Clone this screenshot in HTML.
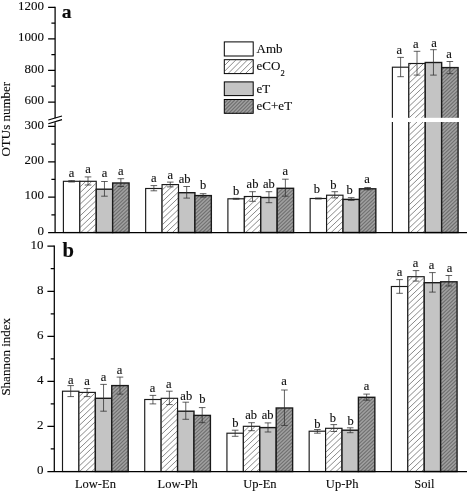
<!DOCTYPE html>
<html><head><meta charset="utf-8"><title>Figure</title>
<style>
html,body{margin:0;padding:0;background:#fff}
svg{display:block}
text{font-family:"Liberation Serif",serif;fill:#0a0a0a;stroke:#0a0a0a;stroke-width:0.12px}
.t{font-size:13px}
.l{font-size:13px}
.s{font-size:12.5px;text-anchor:middle}
.p{font-size:19.6px;font-weight:bold}
</style></head><body>
<svg width="468" height="492" viewBox="0 0 468 492">
<rect width="468" height="492" fill="#fff"/>

<rect x="63.40" y="181.30" width="16.42" height="51.20" fill="#fff"/>
<rect x="63.40" y="181.30" width="16.42" height="51.20" fill="none" stroke="#1a1a1a" stroke-width="1.15"/>
<rect x="79.82" y="181.30" width="16.42" height="51.20" fill="#fff"/>
<path d="M80.32,186.60L85.37,181.80M80.32,192.40L91.47,181.80M80.32,198.20L95.74,183.55M80.32,204.00L95.74,189.35M80.32,209.80L95.74,195.15M80.32,215.60L95.74,200.95M80.32,221.40L95.74,206.75M80.32,227.20L95.74,212.55M80.84,232.50L95.74,218.35M86.95,232.50L95.74,224.15M93.05,232.50L95.74,229.95" stroke="#7c7c7c" stroke-width="0.9" fill="none"/>
<rect x="79.82" y="181.30" width="16.42" height="51.20" fill="none" stroke="#1a1a1a" stroke-width="1.15"/>
<rect x="96.24" y="189.20" width="16.42" height="43.30" fill="#c4c4c4"/>
<rect x="96.24" y="189.20" width="16.42" height="43.30" fill="none" stroke="#1a1a1a" stroke-width="1.4"/>
<rect x="112.66" y="183.00" width="16.42" height="49.50" fill="#a0a0a0"/>
<path d="M113.16,184.10L113.79,183.50M113.16,187.70L117.58,183.50M113.16,191.30L121.37,183.50M113.16,194.90L125.16,183.50M113.16,198.50L128.58,183.85M113.16,202.10L128.58,187.45M113.16,205.70L128.58,191.05M113.16,209.30L128.58,194.65M113.16,212.90L128.58,198.25M113.16,216.50L128.58,201.85M113.16,220.10L128.58,205.45M113.16,223.70L128.58,209.05M113.16,227.30L128.58,212.65M113.16,230.90L128.58,216.25M115.26,232.50L128.58,219.85M119.05,232.50L128.58,223.45M122.84,232.50L128.58,227.05M126.63,232.50L128.58,230.65" stroke="#707070" stroke-width="1.1" fill="none"/>
<rect x="112.66" y="183.00" width="16.42" height="49.50" fill="none" stroke="#1a1a1a" stroke-width="1.4"/>
<rect x="145.65" y="188.50" width="16.42" height="44.00" fill="#fff"/>
<rect x="145.65" y="188.50" width="16.42" height="44.00" fill="none" stroke="#1a1a1a" stroke-width="1.15"/>
<rect x="162.07" y="184.60" width="16.42" height="47.90" fill="#fff"/>
<path d="M162.57,189.66L167.37,185.10M162.57,195.46L173.47,185.10M162.57,201.26L177.99,186.61M162.57,207.06L177.99,192.41M162.57,212.86L177.99,198.21M162.57,218.66L177.99,204.01M162.57,224.46L177.99,209.81M162.57,230.26L177.99,215.61M166.32,232.50L177.99,221.41M172.42,232.50L177.99,227.21" stroke="#7c7c7c" stroke-width="0.9" fill="none"/>
<rect x="162.07" y="184.60" width="16.42" height="47.90" fill="none" stroke="#1a1a1a" stroke-width="1.15"/>
<rect x="178.49" y="192.70" width="16.42" height="39.80" fill="#c4c4c4"/>
<rect x="178.49" y="192.70" width="16.42" height="39.80" fill="none" stroke="#1a1a1a" stroke-width="1.4"/>
<rect x="194.91" y="195.60" width="16.42" height="36.90" fill="#a0a0a0"/>
<path d="M195.41,199.56L199.05,196.10M195.41,203.16L202.84,196.10M195.41,206.76L206.63,196.10M195.41,210.36L210.42,196.10M195.41,213.96L210.83,199.31M195.41,217.56L210.83,202.91M195.41,221.16L210.83,206.51M195.41,224.76L210.83,210.11M195.41,228.36L210.83,213.71M195.41,231.96L210.83,217.31M198.63,232.50L210.83,220.91M202.42,232.50L210.83,224.51M206.21,232.50L210.83,228.11M210.00,232.50L210.83,231.71" stroke="#707070" stroke-width="1.1" fill="none"/>
<rect x="194.91" y="195.60" width="16.42" height="36.90" fill="none" stroke="#1a1a1a" stroke-width="1.4"/>
<rect x="227.90" y="198.80" width="16.42" height="33.70" fill="#fff"/>
<rect x="227.90" y="198.80" width="16.42" height="33.70" fill="none" stroke="#1a1a1a" stroke-width="1.15"/>
<rect x="244.32" y="196.50" width="16.42" height="36.00" fill="#fff"/>
<path d="M244.82,198.52L246.42,197.00M244.82,204.32L252.53,197.00M244.82,210.12L258.63,197.00M244.82,215.92L260.24,201.27M244.82,221.72L260.24,207.07M244.82,227.52L260.24,212.87M245.68,232.50L260.24,218.67M251.79,232.50L260.24,224.47M257.89,232.50L260.24,230.27" stroke="#7c7c7c" stroke-width="0.9" fill="none"/>
<rect x="244.32" y="196.50" width="16.42" height="36.00" fill="none" stroke="#1a1a1a" stroke-width="1.15"/>
<rect x="260.74" y="197.50" width="16.42" height="35.00" fill="#c4c4c4"/>
<rect x="260.74" y="197.50" width="16.42" height="35.00" fill="none" stroke="#1a1a1a" stroke-width="1.4"/>
<rect x="277.16" y="188.30" width="16.42" height="44.20" fill="#a0a0a0"/>
<path d="M277.66,189.82L278.74,188.80M277.66,193.42L282.53,188.80M277.66,197.02L286.32,188.80M277.66,200.62L290.11,188.80M277.66,204.22L293.08,189.57M277.66,207.82L293.08,193.17M277.66,211.42L293.08,196.77M277.66,215.02L293.08,200.37M277.66,218.62L293.08,203.97M277.66,222.22L293.08,207.57M277.66,225.82L293.08,211.17M277.66,229.42L293.08,214.77M278.21,232.50L293.08,218.37M282.00,232.50L293.08,221.97M285.79,232.50L293.08,225.57M289.58,232.50L293.08,229.17" stroke="#707070" stroke-width="1.1" fill="none"/>
<rect x="277.16" y="188.30" width="16.42" height="44.20" fill="none" stroke="#1a1a1a" stroke-width="1.4"/>
<rect x="310.15" y="198.50" width="16.42" height="34.00" fill="#fff"/>
<rect x="310.15" y="198.50" width="16.42" height="34.00" fill="none" stroke="#1a1a1a" stroke-width="1.15"/>
<rect x="326.57" y="195.20" width="16.42" height="37.30" fill="#fff"/>
<path d="M327.07,201.58L333.26,195.70M327.07,207.38L339.37,195.70M327.07,213.18L342.49,198.53M327.07,218.98L342.49,204.33M327.07,224.78L342.49,210.13M327.07,230.58L342.49,215.93M331.16,232.50L342.49,221.73M337.26,232.50L342.49,227.53" stroke="#7c7c7c" stroke-width="0.9" fill="none"/>
<rect x="326.57" y="195.20" width="16.42" height="37.30" fill="none" stroke="#1a1a1a" stroke-width="1.15"/>
<rect x="342.99" y="199.40" width="16.42" height="33.10" fill="#c4c4c4"/>
<rect x="342.99" y="199.40" width="16.42" height="33.10" fill="none" stroke="#1a1a1a" stroke-width="1.4"/>
<rect x="359.41" y="188.80" width="16.42" height="43.70" fill="#a0a0a0"/>
<path d="M359.91,190.89L361.58,189.30M359.91,194.49L365.37,189.30M359.91,198.09L369.16,189.30M359.91,201.69L372.95,189.30M359.91,205.29L375.33,190.64M359.91,208.89L375.33,194.24M359.91,212.49L375.33,197.84M359.91,216.09L375.33,201.44M359.91,219.69L375.33,205.04M359.91,223.29L375.33,208.64M359.91,226.89L375.33,212.24M359.91,230.49L375.33,215.84M361.58,232.50L375.33,219.44M365.37,232.50L375.33,223.04M369.16,232.50L375.33,226.64M372.95,232.50L375.33,230.24" stroke="#707070" stroke-width="1.1" fill="none"/>
<rect x="359.41" y="188.80" width="16.42" height="43.70" fill="none" stroke="#1a1a1a" stroke-width="1.4"/>
<rect x="392.40" y="67.20" width="16.42" height="165.30" fill="#fff"/>
<rect x="392.40" y="67.20" width="16.42" height="165.30" fill="none" stroke="#1a1a1a" stroke-width="1.15"/>
<rect x="408.82" y="63.50" width="16.42" height="169.00" fill="#fff"/>
<path d="M409.32,65.45L410.84,64.00M409.32,71.25L416.95,64.00M409.32,77.05L423.05,64.00M409.32,82.85L424.74,68.20M409.32,88.65L424.74,74.00M409.32,94.45L424.74,79.80M409.32,100.25L424.74,85.60M409.32,106.05L424.74,91.40M409.32,111.85L424.74,97.20M409.32,117.65L424.74,103.00M409.32,123.45L424.74,108.80M409.32,129.25L424.74,114.60M409.32,135.05L424.74,120.40M409.32,140.85L424.74,126.20M409.32,146.65L424.74,132.00M409.32,152.45L424.74,137.80M409.32,158.25L424.74,143.60M409.32,164.05L424.74,149.40M409.32,169.85L424.74,155.20M409.32,175.65L424.74,161.00M409.32,181.45L424.74,166.80M409.32,187.25L424.74,172.60M409.32,193.05L424.74,178.40M409.32,198.85L424.74,184.20M409.32,204.65L424.74,190.00M409.32,210.45L424.74,195.80M409.32,216.25L424.74,201.60M409.32,222.05L424.74,207.40M409.32,227.85L424.74,213.20M410.53,232.50L424.74,219.00M416.63,232.50L424.74,224.80M422.74,232.50L424.74,230.60" stroke="#7c7c7c" stroke-width="0.9" fill="none"/>
<rect x="408.82" y="63.50" width="16.42" height="169.00" fill="none" stroke="#1a1a1a" stroke-width="1.15"/>
<rect x="425.24" y="62.50" width="16.42" height="170.00" fill="#c4c4c4"/>
<rect x="425.24" y="62.50" width="16.42" height="170.00" fill="none" stroke="#1a1a1a" stroke-width="1.4"/>
<rect x="441.66" y="67.60" width="16.42" height="164.90" fill="#a0a0a0"/>
<path d="M442.16,69.55L443.68,68.10M442.16,73.15L447.47,68.10M442.16,76.75L451.26,68.10M442.16,80.35L455.05,68.10M442.16,83.95L457.58,69.30M442.16,87.55L457.58,72.90M442.16,91.15L457.58,76.50M442.16,94.75L457.58,80.10M442.16,98.35L457.58,83.70M442.16,101.95L457.58,87.30M442.16,105.55L457.58,90.90M442.16,109.15L457.58,94.50M442.16,112.75L457.58,98.10M442.16,116.35L457.58,101.70M442.16,119.95L457.58,105.30M442.16,123.55L457.58,108.90M442.16,127.15L457.58,112.50M442.16,130.75L457.58,116.10M442.16,134.35L457.58,119.70M442.16,137.95L457.58,123.30M442.16,141.55L457.58,126.90M442.16,145.15L457.58,130.50M442.16,148.75L457.58,134.10M442.16,152.35L457.58,137.70M442.16,155.95L457.58,141.30M442.16,159.55L457.58,144.90M442.16,163.15L457.58,148.50M442.16,166.75L457.58,152.10M442.16,170.35L457.58,155.70M442.16,173.95L457.58,159.30M442.16,177.55L457.58,162.90M442.16,181.15L457.58,166.50M442.16,184.75L457.58,170.10M442.16,188.35L457.58,173.70M442.16,191.95L457.58,177.30M442.16,195.55L457.58,180.90M442.16,199.15L457.58,184.50M442.16,202.75L457.58,188.10M442.16,206.35L457.58,191.70M442.16,209.95L457.58,195.30M442.16,213.55L457.58,198.90M442.16,217.15L457.58,202.50M442.16,220.75L457.58,206.10M442.16,224.35L457.58,209.70M442.16,227.95L457.58,213.30M442.16,231.55L457.58,216.90M444.95,232.50L457.58,220.50M448.74,232.50L457.58,224.10M452.53,232.50L457.58,227.70M456.32,232.50L457.58,231.30" stroke="#707070" stroke-width="1.1" fill="none"/>
<rect x="441.66" y="67.60" width="16.42" height="164.90" fill="none" stroke="#1a1a1a" stroke-width="1.4"/>
<path d="M71.61,180.60V182.00M68.31,180.60h6.6M68.31,182.00h6.6" stroke="#2c2c2c" stroke-width="0.75" fill="none"/>
<text class="s" x="71.61" y="177.10">a</text>
<path d="M88.03,176.90V185.00M84.73,176.90h6.6M84.73,185.00h6.6" stroke="#2c2c2c" stroke-width="0.75" fill="none"/>
<text class="s" x="88.03" y="173.40">a</text>
<path d="M104.45,181.50V196.20M101.15,181.50h6.6M101.15,196.20h6.6" stroke="#2c2c2c" stroke-width="0.75" fill="none"/>
<text class="s" x="104.45" y="177.20">a</text>
<path d="M120.87,178.70V186.50M117.57,178.70h6.6M117.57,186.50h6.6" stroke="#2c2c2c" stroke-width="0.75" fill="none"/>
<text class="s" x="120.87" y="175.20">a</text>
<path d="M153.86,185.60V190.80M150.56,185.60h6.6M150.56,190.80h6.6" stroke="#2c2c2c" stroke-width="0.75" fill="none"/>
<text class="s" x="153.86" y="182.10">a</text>
<path d="M170.28,182.10V186.90M166.98,182.10h6.6M166.98,186.90h6.6" stroke="#2c2c2c" stroke-width="0.75" fill="none"/>
<text class="s" x="170.28" y="178.60">a</text>
<path d="M186.70,186.50V198.10M183.40,186.50h6.6M183.40,198.10h6.6" stroke="#2c2c2c" stroke-width="0.75" fill="none"/>
<text class="s" x="184.70" y="183.00">ab</text>
<path d="M203.12,193.70V197.10M199.82,193.70h6.6M199.82,197.10h6.6" stroke="#2c2c2c" stroke-width="0.75" fill="none"/>
<text class="s" x="203.12" y="189.20">b</text>
<path d="M236.11,198.30V199.30M232.81,198.30h6.6M232.81,199.30h6.6" stroke="#2c2c2c" stroke-width="0.75" fill="none"/>
<text class="s" x="236.11" y="194.80">b</text>
<path d="M252.53,191.70V201.30M249.23,191.70h6.6M249.23,201.30h6.6" stroke="#2c2c2c" stroke-width="0.75" fill="none"/>
<text class="s" x="252.53" y="188.20">ab</text>
<path d="M268.95,191.70V202.70M265.65,191.70h6.6M265.65,202.70h6.6" stroke="#2c2c2c" stroke-width="0.75" fill="none"/>
<text class="s" x="268.95" y="188.20">ab</text>
<path d="M285.37,179.20V196.20M282.07,179.20h6.6M282.07,196.20h6.6" stroke="#2c2c2c" stroke-width="0.75" fill="none"/>
<text class="s" x="285.37" y="174.90">a</text>
<path d="M318.36,198.00V199.00M315.06,198.00h6.6M315.06,199.00h6.6" stroke="#2c2c2c" stroke-width="0.75" fill="none"/>
<text class="s" x="316.76" y="193.40">b</text>
<path d="M334.78,191.70V197.90M331.48,191.70h6.6M331.48,197.90h6.6" stroke="#2c2c2c" stroke-width="0.75" fill="none"/>
<text class="s" x="333.48" y="188.60">b</text>
<path d="M351.20,197.70V200.40M347.90,197.70h6.6M347.90,200.40h6.6" stroke="#2c2c2c" stroke-width="0.75" fill="none"/>
<text class="s" x="349.60" y="193.90">b</text>
<path d="M367.62,187.50V189.80M364.32,187.50h6.6M364.32,189.80h6.6" stroke="#2c2c2c" stroke-width="0.75" fill="none"/>
<text class="s" x="367.12" y="182.70">a</text>
<path d="M400.61,57.40V76.70M397.31,57.40h6.6M397.31,76.70h6.6" stroke="#2c2c2c" stroke-width="0.75" fill="none"/>
<text class="s" x="399.31" y="54.40">a</text>
<path d="M417.03,51.30V75.10M413.73,51.30h6.6M413.73,75.10h6.6" stroke="#2c2c2c" stroke-width="0.75" fill="none"/>
<text class="s" x="415.73" y="48.30">a</text>
<path d="M433.45,49.70V75.10M430.15,49.70h6.6M430.15,75.10h6.6" stroke="#2c2c2c" stroke-width="0.75" fill="none"/>
<text class="s" x="433.95" y="47.00">a</text>
<path d="M449.87,61.50V73.70M446.57,61.50h6.6M446.57,73.70h6.6" stroke="#2c2c2c" stroke-width="0.75" fill="none"/>
<text class="s" x="449.07" y="57.50">a</text>
<rect x="380" y="117.8" width="88" height="4.2" fill="#fff"/>
<rect x="62.50" y="391.20" width="16.42" height="80.30" fill="#fff"/>
<rect x="62.50" y="391.20" width="16.42" height="80.30" fill="none" stroke="#1a1a1a" stroke-width="1.15"/>
<rect x="78.92" y="392.40" width="16.42" height="79.10" fill="#fff"/>
<path d="M79.42,396.25L82.95,392.90M79.42,402.05L89.05,392.90M79.42,407.85L94.84,393.20M79.42,413.65L94.84,399.00M79.42,419.45L94.84,404.80M79.42,425.25L94.84,410.60M79.42,431.05L94.84,416.40M79.42,436.85L94.84,422.20M79.42,442.65L94.84,428.00M79.42,448.45L94.84,433.80M79.42,454.25L94.84,439.60M79.42,460.05L94.84,445.40M79.42,465.85L94.84,451.20M79.58,471.50L94.84,457.00M85.68,471.50L94.84,462.80M91.79,471.50L94.84,468.60" stroke="#7c7c7c" stroke-width="0.9" fill="none"/>
<rect x="78.92" y="392.40" width="16.42" height="79.10" fill="none" stroke="#1a1a1a" stroke-width="1.15"/>
<rect x="95.34" y="398.30" width="16.42" height="73.20" fill="#c4c4c4"/>
<rect x="95.34" y="398.30" width="16.42" height="73.20" fill="none" stroke="#1a1a1a" stroke-width="1.4"/>
<rect x="111.76" y="385.60" width="16.42" height="85.90" fill="#a0a0a0"/>
<path d="M112.26,386.55L112.74,386.10M112.26,390.15L116.53,386.10M112.26,393.75L120.32,386.10M112.26,397.35L124.11,386.10M112.26,400.95L127.68,386.30M112.26,404.55L127.68,389.90M112.26,408.15L127.68,393.50M112.26,411.75L127.68,397.10M112.26,415.35L127.68,400.70M112.26,418.95L127.68,404.30M112.26,422.55L127.68,407.90M112.26,426.15L127.68,411.50M112.26,429.75L127.68,415.10M112.26,433.35L127.68,418.70M112.26,436.95L127.68,422.30M112.26,440.55L127.68,425.90M112.26,444.15L127.68,429.50M112.26,447.75L127.68,433.10M112.26,451.35L127.68,436.70M112.26,454.95L127.68,440.30M112.26,458.55L127.68,443.90M112.26,462.15L127.68,447.50M112.26,465.75L127.68,451.10M112.26,469.35L127.68,454.70M113.79,471.50L127.68,458.30M117.58,471.50L127.68,461.90M121.37,471.50L127.68,465.50M125.16,471.50L127.68,469.10" stroke="#707070" stroke-width="1.1" fill="none"/>
<rect x="111.76" y="385.60" width="16.42" height="85.90" fill="none" stroke="#1a1a1a" stroke-width="1.4"/>
<rect x="144.72" y="399.50" width="16.42" height="72.00" fill="#fff"/>
<rect x="144.72" y="399.50" width="16.42" height="72.00" fill="none" stroke="#1a1a1a" stroke-width="1.15"/>
<rect x="161.14" y="398.30" width="16.42" height="73.20" fill="#fff"/>
<path d="M161.64,399.34L162.21,398.80M161.64,405.14L168.32,398.80M161.64,410.94L174.42,398.80M161.64,416.74L177.06,402.09M161.64,422.54L177.06,407.89M161.64,428.34L177.06,413.69M161.64,434.14L177.06,419.49M161.64,439.94L177.06,425.29M161.64,445.74L177.06,431.09M161.64,451.54L177.06,436.89M161.64,457.34L177.06,442.69M161.64,463.14L177.06,448.49M161.64,468.94L177.06,454.29M165.05,471.50L177.06,460.09M171.16,471.50L177.06,465.89" stroke="#7c7c7c" stroke-width="0.9" fill="none"/>
<rect x="161.14" y="398.30" width="16.42" height="73.20" fill="none" stroke="#1a1a1a" stroke-width="1.15"/>
<rect x="177.56" y="411.20" width="16.42" height="60.30" fill="#c4c4c4"/>
<rect x="177.56" y="411.20" width="16.42" height="60.30" fill="none" stroke="#1a1a1a" stroke-width="1.4"/>
<rect x="193.98" y="415.40" width="16.42" height="56.10" fill="#a0a0a0"/>
<path d="M194.48,416.44L195.05,415.90M194.48,420.04L198.84,415.90M194.48,423.64L202.63,415.90M194.48,427.24L206.42,415.90M194.48,430.84L209.90,416.20M194.48,434.44L209.90,419.80M194.48,438.04L209.90,423.40M194.48,441.64L209.90,427.00M194.48,445.24L209.90,430.60M194.48,448.84L209.90,434.20M194.48,452.44L209.90,437.80M194.48,456.04L209.90,441.40M194.48,459.64L209.90,445.00M194.48,463.24L209.90,448.60M194.48,466.84L209.90,452.20M194.48,470.44L209.90,455.80M197.16,471.50L209.90,459.40M200.95,471.50L209.90,463.00M204.74,471.50L209.90,466.60M208.53,471.50L209.90,470.20" stroke="#707070" stroke-width="1.1" fill="none"/>
<rect x="193.98" y="415.40" width="16.42" height="56.10" fill="none" stroke="#1a1a1a" stroke-width="1.4"/>
<rect x="226.94" y="433.20" width="16.42" height="38.30" fill="#fff"/>
<rect x="226.94" y="433.20" width="16.42" height="38.30" fill="none" stroke="#1a1a1a" stroke-width="1.15"/>
<rect x="243.36" y="426.30" width="16.42" height="45.20" fill="#fff"/>
<path d="M243.86,431.43L248.74,426.80M243.86,437.23L254.84,426.80M243.86,443.03L259.28,428.38M243.86,448.83L259.28,434.18M243.86,454.63L259.28,439.98M243.86,460.43L259.28,445.78M243.86,466.23L259.28,451.58M244.42,471.50L259.28,457.38M250.53,471.50L259.28,463.18M256.63,471.50L259.28,468.98" stroke="#7c7c7c" stroke-width="0.9" fill="none"/>
<rect x="243.36" y="426.30" width="16.42" height="45.20" fill="none" stroke="#1a1a1a" stroke-width="1.15"/>
<rect x="259.78" y="427.60" width="16.42" height="43.90" fill="#c4c4c4"/>
<rect x="259.78" y="427.60" width="16.42" height="43.90" fill="none" stroke="#1a1a1a" stroke-width="1.4"/>
<rect x="276.20" y="408.00" width="16.42" height="63.50" fill="#a0a0a0"/>
<path d="M276.70,410.34L278.63,408.50M276.70,413.94L282.42,408.50M276.70,417.54L286.21,408.50M276.70,421.14L290.00,408.50M276.70,424.74L292.12,410.09M276.70,428.34L292.12,413.69M276.70,431.94L292.12,417.29M276.70,435.54L292.12,420.89M276.70,439.14L292.12,424.49M276.70,442.74L292.12,428.09M276.70,446.34L292.12,431.69M276.70,449.94L292.12,435.29M276.70,453.54L292.12,438.89M276.70,457.14L292.12,442.49M276.70,460.74L292.12,446.09M276.70,464.34L292.12,449.69M276.70,467.94L292.12,453.29M276.74,471.50L292.12,456.89M280.53,471.50L292.12,460.49M284.32,471.50L292.12,464.09M288.11,471.50L292.12,467.69" stroke="#707070" stroke-width="1.1" fill="none"/>
<rect x="276.20" y="408.00" width="16.42" height="63.50" fill="none" stroke="#1a1a1a" stroke-width="1.4"/>
<rect x="309.16" y="431.20" width="16.42" height="40.30" fill="#fff"/>
<rect x="309.16" y="431.20" width="16.42" height="40.30" fill="none" stroke="#1a1a1a" stroke-width="1.15"/>
<rect x="325.58" y="428.30" width="16.42" height="43.20" fill="#fff"/>
<path d="M326.08,434.52L332.11,428.80M326.08,440.32L338.21,428.80M326.08,446.12L341.50,431.47M326.08,451.92L341.50,437.27M326.08,457.72L341.50,443.07M326.08,463.52L341.50,448.87M326.08,469.32L341.50,454.67M329.89,471.50L341.50,460.47M336.00,471.50L341.50,466.27" stroke="#7c7c7c" stroke-width="0.9" fill="none"/>
<rect x="325.58" y="428.30" width="16.42" height="43.20" fill="none" stroke="#1a1a1a" stroke-width="1.15"/>
<rect x="342.00" y="430.20" width="16.42" height="41.30" fill="#c4c4c4"/>
<rect x="342.00" y="430.20" width="16.42" height="41.30" fill="none" stroke="#1a1a1a" stroke-width="1.4"/>
<rect x="358.42" y="397.30" width="16.42" height="74.20" fill="#a0a0a0"/>
<path d="M358.92,400.63L361.89,397.80M358.92,404.23L365.68,397.80M358.92,407.83L369.47,397.80M358.92,411.43L373.26,397.80M358.92,415.03L374.34,400.38M358.92,418.63L374.34,403.98M358.92,422.23L374.34,407.58M358.92,425.83L374.34,411.18M358.92,429.43L374.34,414.78M358.92,433.03L374.34,418.38M358.92,436.63L374.34,421.98M358.92,440.23L374.34,425.58M358.92,443.83L374.34,429.18M358.92,447.43L374.34,432.78M358.92,451.03L374.34,436.38M358.92,454.63L374.34,439.98M358.92,458.23L374.34,443.58M358.92,461.83L374.34,447.18M358.92,465.43L374.34,450.78M358.92,469.03L374.34,454.38M360.11,471.50L374.34,457.98M363.89,471.50L374.34,461.58M367.68,471.50L374.34,465.18M371.47,471.50L374.34,468.78" stroke="#707070" stroke-width="1.1" fill="none"/>
<rect x="358.42" y="397.30" width="16.42" height="74.20" fill="none" stroke="#1a1a1a" stroke-width="1.4"/>
<rect x="391.38" y="286.50" width="16.42" height="185.00" fill="#fff"/>
<rect x="391.38" y="286.50" width="16.42" height="185.00" fill="none" stroke="#1a1a1a" stroke-width="1.15"/>
<rect x="407.80" y="276.70" width="16.42" height="194.80" fill="#fff"/>
<path d="M408.30,281.01L412.32,277.20M408.30,286.81L418.42,277.20M408.30,292.61L423.72,277.97M408.30,298.41L423.72,283.77M408.30,304.21L423.72,289.57M408.30,310.01L423.72,295.37M408.30,315.81L423.72,301.17M408.30,321.61L423.72,306.97M408.30,327.41L423.72,312.77M408.30,333.21L423.72,318.57M408.30,339.01L423.72,324.37M408.30,344.81L423.72,330.17M408.30,350.61L423.72,335.97M408.30,356.41L423.72,341.77M408.30,362.21L423.72,347.57M408.30,368.01L423.72,353.37M408.30,373.81L423.72,359.17M408.30,379.61L423.72,364.97M408.30,385.41L423.72,370.77M408.30,391.21L423.72,376.57M408.30,397.01L423.72,382.37M408.30,402.81L423.72,388.17M408.30,408.61L423.72,393.97M408.30,414.41L423.72,399.77M408.30,420.21L423.72,405.57M408.30,426.01L423.72,411.37M408.30,431.81L423.72,417.17M408.30,437.61L423.72,422.97M408.30,443.41L423.72,428.77M408.30,449.21L423.72,434.57M408.30,455.01L423.72,440.37M408.30,460.81L423.72,446.17M408.30,466.61L423.72,451.97M409.26,471.50L423.72,457.77M415.37,471.50L423.72,463.57M421.47,471.50L423.72,469.37" stroke="#7c7c7c" stroke-width="0.9" fill="none"/>
<rect x="407.80" y="276.70" width="16.42" height="194.80" fill="none" stroke="#1a1a1a" stroke-width="1.15"/>
<rect x="424.22" y="282.70" width="16.42" height="188.80" fill="#c4c4c4"/>
<rect x="424.22" y="282.70" width="16.42" height="188.80" fill="none" stroke="#1a1a1a" stroke-width="1.4"/>
<rect x="440.64" y="281.80" width="16.42" height="189.70" fill="#a0a0a0"/>
<path d="M441.14,282.92L441.79,282.30M441.14,286.52L445.58,282.30M441.14,290.12L449.37,282.30M441.14,293.72L453.16,282.30M441.14,297.32L456.56,282.67M441.14,300.92L456.56,286.27M441.14,304.52L456.56,289.87M441.14,308.12L456.56,293.47M441.14,311.72L456.56,297.07M441.14,315.32L456.56,300.67M441.14,318.92L456.56,304.27M441.14,322.52L456.56,307.87M441.14,326.12L456.56,311.47M441.14,329.72L456.56,315.07M441.14,333.32L456.56,318.67M441.14,336.92L456.56,322.27M441.14,340.52L456.56,325.87M441.14,344.12L456.56,329.47M441.14,347.72L456.56,333.07M441.14,351.32L456.56,336.67M441.14,354.92L456.56,340.27M441.14,358.52L456.56,343.87M441.14,362.12L456.56,347.47M441.14,365.72L456.56,351.07M441.14,369.32L456.56,354.67M441.14,372.92L456.56,358.27M441.14,376.52L456.56,361.87M441.14,380.12L456.56,365.47M441.14,383.72L456.56,369.07M441.14,387.32L456.56,372.67M441.14,390.92L456.56,376.27M441.14,394.52L456.56,379.87M441.14,398.12L456.56,383.47M441.14,401.72L456.56,387.07M441.14,405.32L456.56,390.67M441.14,408.92L456.56,394.27M441.14,412.52L456.56,397.87M441.14,416.12L456.56,401.47M441.14,419.72L456.56,405.07M441.14,423.32L456.56,408.67M441.14,426.92L456.56,412.27M441.14,430.52L456.56,415.87M441.14,434.12L456.56,419.47M441.14,437.72L456.56,423.07M441.14,441.32L456.56,426.67M441.14,444.92L456.56,430.27M441.14,448.52L456.56,433.87M441.14,452.12L456.56,437.47M441.14,455.72L456.56,441.07M441.14,459.32L456.56,444.67M441.14,462.92L456.56,448.27M441.14,466.52L456.56,451.87M441.14,470.12L456.56,455.47M443.47,471.50L456.56,459.07M447.26,471.50L456.56,462.67M451.05,471.50L456.56,466.27M454.84,471.50L456.56,469.87" stroke="#707070" stroke-width="1.1" fill="none"/>
<rect x="440.64" y="281.80" width="16.42" height="189.70" fill="none" stroke="#1a1a1a" stroke-width="1.4"/>
<path d="M70.71,385.60V396.60M67.41,385.60h6.6M67.41,396.60h6.6" stroke="#2c2c2c" stroke-width="0.75" fill="none"/>
<text class="s" x="70.71" y="383.70">a</text>
<path d="M87.13,388.50V396.60M83.83,388.50h6.6M83.83,396.60h6.6" stroke="#2c2c2c" stroke-width="0.75" fill="none"/>
<text class="s" x="87.13" y="385.30">a</text>
<path d="M103.55,384.40V411.20M100.25,384.40h6.6M100.25,411.20h6.6" stroke="#2c2c2c" stroke-width="0.75" fill="none"/>
<text class="s" x="103.55" y="380.90">a</text>
<path d="M119.97,377.10V394.10M116.67,377.10h6.6M116.67,394.10h6.6" stroke="#2c2c2c" stroke-width="0.75" fill="none"/>
<text class="s" x="119.57" y="374.10">a</text>
<path d="M152.93,395.40V403.90M149.63,395.40h6.6M149.63,403.90h6.6" stroke="#2c2c2c" stroke-width="0.75" fill="none"/>
<text class="s" x="152.63" y="391.90">a</text>
<path d="M169.35,391.20V404.60M166.05,391.20h6.6M166.05,404.60h6.6" stroke="#2c2c2c" stroke-width="0.75" fill="none"/>
<text class="s" x="168.75" y="387.70">a</text>
<path d="M185.77,402.20V419.30M182.47,402.20h6.6M182.47,419.30h6.6" stroke="#2c2c2c" stroke-width="0.75" fill="none"/>
<text class="s" x="186.27" y="399.50">ab</text>
<path d="M202.19,407.60V422.70M198.89,407.60h6.6M198.89,422.70h6.6" stroke="#2c2c2c" stroke-width="0.75" fill="none"/>
<text class="s" x="202.49" y="403.30">b</text>
<path d="M235.15,430.20V436.30M231.85,430.20h6.6M231.85,436.30h6.6" stroke="#2c2c2c" stroke-width="0.75" fill="none"/>
<text class="s" x="235.45" y="426.70">b</text>
<path d="M251.57,422.70V430.70M248.27,422.70h6.6M248.27,430.70h6.6" stroke="#2c2c2c" stroke-width="0.75" fill="none"/>
<text class="s" x="251.07" y="419.20">ab</text>
<path d="M267.99,422.90V432.00M264.69,422.90h6.6M264.69,432.00h6.6" stroke="#2c2c2c" stroke-width="0.75" fill="none"/>
<text class="s" x="267.69" y="419.10">ab</text>
<path d="M284.41,390.00V425.40M281.11,390.00h6.6M281.11,425.40h6.6" stroke="#2c2c2c" stroke-width="0.75" fill="none"/>
<text class="s" x="284.11" y="385.40">a</text>
<path d="M317.37,429.50V433.20M314.07,429.50h6.6M314.07,433.20h6.6" stroke="#2c2c2c" stroke-width="0.75" fill="none"/>
<text class="s" x="317.37" y="427.60">b</text>
<path d="M333.79,424.60V431.50M330.49,424.60h6.6M330.49,431.50h6.6" stroke="#2c2c2c" stroke-width="0.75" fill="none"/>
<text class="s" x="332.99" y="421.60">b</text>
<path d="M350.21,427.80V432.70M346.91,427.80h6.6M346.91,432.70h6.6" stroke="#2c2c2c" stroke-width="0.75" fill="none"/>
<text class="s" x="350.71" y="424.80">b</text>
<path d="M366.63,394.10V400.20M363.33,394.10h6.6M363.33,400.20h6.6" stroke="#2c2c2c" stroke-width="0.75" fill="none"/>
<text class="s" x="366.63" y="389.80">a</text>
<path d="M399.59,279.60V293.30M396.29,279.60h6.6M396.29,293.30h6.6" stroke="#2c2c2c" stroke-width="0.75" fill="none"/>
<text class="s" x="399.59" y="276.40">a</text>
<path d="M416.01,270.60V281.10M412.71,270.60h6.6M412.71,281.10h6.6" stroke="#2c2c2c" stroke-width="0.75" fill="none"/>
<text class="s" x="415.41" y="266.80">a</text>
<path d="M432.43,272.60V292.10M429.13,272.60h6.6M429.13,292.10h6.6" stroke="#2c2c2c" stroke-width="0.75" fill="none"/>
<text class="s" x="431.63" y="269.10">a</text>
<path d="M448.85,275.50V286.00M445.55,275.50h6.6M445.55,286.00h6.6" stroke="#2c2c2c" stroke-width="0.75" fill="none"/>
<text class="s" x="449.65" y="272.00">a</text>
<path d="M55.1,6.7V118.2M55.1,122.3V232.5" stroke="#000" stroke-width="1.25" fill="none"/>
<path d="M48.1,232.5H467" stroke="#000" stroke-width="1.25" fill="none"/>
<path d="M48.3,120 L62,116 M48.3,123.8 L62,119.6" stroke="#000" stroke-width="1.1" fill="none"/>
<text class="t" text-anchor="end" x="44.0" y="104.30">600</text>
<text class="t" text-anchor="end" x="44.0" y="72.74">800</text>
<text class="t" text-anchor="end" x="44.0" y="41.18">1000</text>
<text class="t" text-anchor="end" x="44.0" y="9.62">1200</text>
<text class="t" text-anchor="end" x="44.0" y="234.80">0</text>
<text class="t" text-anchor="end" x="44.0" y="199.43">100</text>
<text class="t" text-anchor="end" x="44.0" y="164.06">200</text>
<text class="t" text-anchor="end" x="44.0" y="128.69">300</text>
<path d="M54.3,245.6V471.5" stroke="#000" stroke-width="1.25" fill="none"/>
<path d="M47.4,471.5H467" stroke="#000" stroke-width="1.25" fill="none"/>
<text class="t" text-anchor="end" x="43.6" y="473.80">0</text>
<text class="t" text-anchor="end" x="43.6" y="428.74">2</text>
<text class="t" text-anchor="end" x="43.6" y="383.68">4</text>
<text class="t" text-anchor="end" x="43.6" y="338.62">6</text>
<text class="t" text-anchor="end" x="43.6" y="293.56">8</text>
<text class="t" text-anchor="end" x="43.6" y="248.50">10</text>
<path d="M48.1,102.00H55.1M48.1,70.44H55.1M48.1,38.88H55.1M48.1,7.32H55.1M51.4,86.22H55.1M51.4,54.66H55.1M51.4,23.10H55.1M48.1,197.13H55.1M48.1,161.76H55.1M48.1,126.39H55.1M51.4,214.81H55.1M51.4,179.44H55.1M51.4,144.07H55.1M47.4,426.44H54.3M47.4,381.38H54.3M47.4,336.32H54.3M47.4,291.26H54.3M47.4,246.20H54.3M50.7,448.97H54.3M50.7,403.91H54.3M50.7,358.85H54.3M50.7,313.79H54.3M50.7,268.73H54.3" stroke="#000" stroke-width="1.25" fill="none"/>
<text class="l" text-anchor="middle" transform="translate(10.4,119.2) rotate(-90)">OTUs number</text>
<text class="l" text-anchor="middle" transform="translate(10.4,356.8) rotate(-90)">Shannon index</text>
<text class="p" x="61.8" y="17.8">a</text>
<text class="p" style="font-size:20.6px" x="62.4" y="257.2">b</text>
<text class="s" x="95.44" y="488.3">Low-En</text>
<text class="s" x="177.69" y="488.3">Low-Ph</text>
<text class="s" x="259.94" y="488.3">Up-En</text>
<text class="s" x="342.19" y="488.3">Up-Ph</text>
<text class="s" x="424.44" y="488.3">Soil</text>
<rect x="224.3" y="41.9" width="28.9" height="14.10" fill="#fff"/>
<rect x="224.3" y="41.9" width="28.9" height="14.10" fill="none" stroke="#000" stroke-width="1"/>
<text class="l" x="256.6" y="53.1">Amb</text>
<rect x="224.3" y="59.7" width="28.9" height="13.90" fill="#fff"/>
<path d="M224.80,65.20L229.80,60.20M224.80,71.00L235.60,60.20M228.00,73.60L241.40,60.20M233.80,73.60L247.20,60.20M239.60,73.60L252.70,60.50M245.40,73.60L252.70,66.30M251.20,73.60L252.70,72.10" stroke="#7c7c7c" stroke-width="0.9" fill="none"/>
<rect x="224.3" y="59.7" width="28.9" height="13.90" fill="none" stroke="#000" stroke-width="1"/>
<text class="l" x="256.6" y="70.2">eCO<tspan font-size="8.5px" dy="5.3">2</tspan></text>
<rect x="224.3" y="81.9" width="28.9" height="13.70" fill="#c4c4c4"/>
<rect x="224.3" y="81.9" width="28.9" height="13.70" fill="none" stroke="#000" stroke-width="1"/>
<text class="l" x="256.6" y="93.1">eT</text>
<rect x="224.3" y="99.5" width="28.9" height="13.80" fill="#a0a0a0"/>
<path d="M224.80,102.80L227.60,100.00M224.80,106.40L231.20,100.00M224.80,110.00L234.80,100.00M225.10,113.30L238.40,100.00M228.70,113.30L242.00,100.00M232.30,113.30L245.60,100.00M235.90,113.30L249.20,100.00M239.50,113.30L252.70,100.10M243.10,113.30L252.70,103.70M246.70,113.30L252.70,107.30M250.30,113.30L252.70,110.90" stroke="#707070" stroke-width="1.1" fill="none"/>
<rect x="224.3" y="99.5" width="28.9" height="13.80" fill="none" stroke="#000" stroke-width="1"/>
<text class="l" x="256.6" y="110.1">eC+eT</text>
</svg></body></html>
